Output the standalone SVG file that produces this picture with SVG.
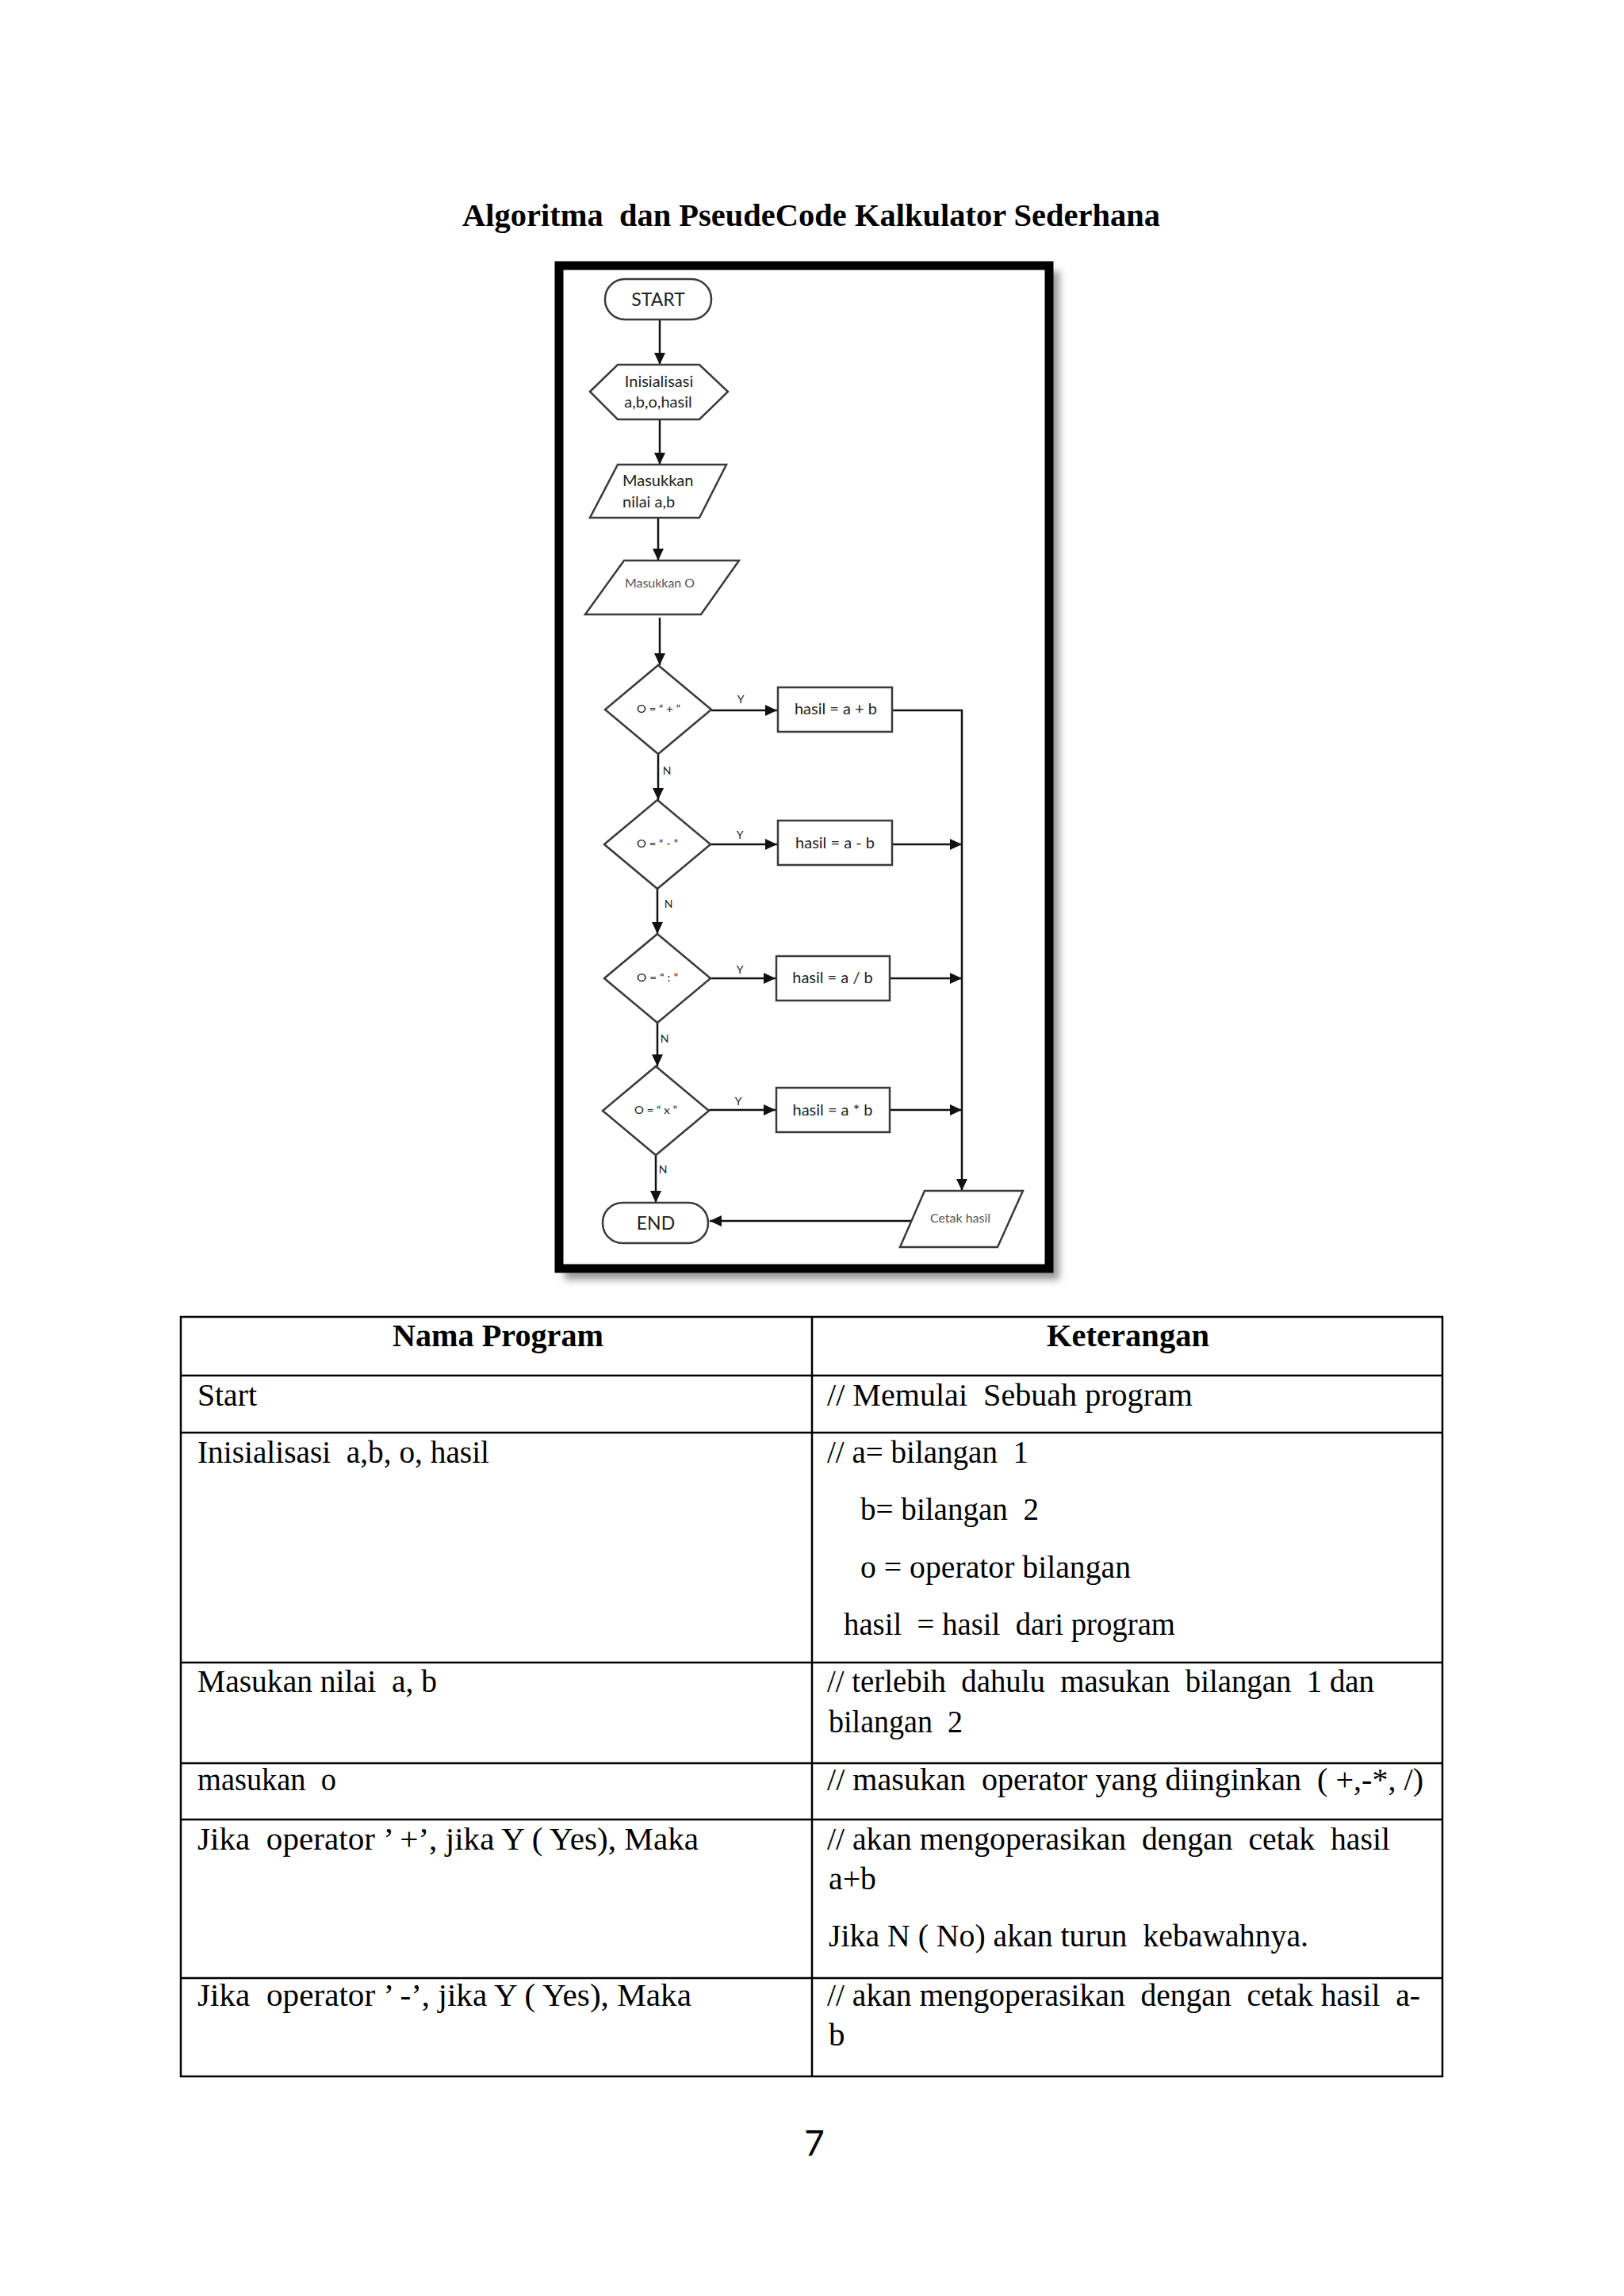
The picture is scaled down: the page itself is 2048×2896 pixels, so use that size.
<svg xmlns="http://www.w3.org/2000/svg" width="2048" height="2896" viewBox="0 0 2048 2896">
<style>
.fc{font-family:Lato,"Open Sans",sans-serif;fill:#222;}
.sh{fill:#fff;stroke:#3a3a3a;stroke-width:2.5;}
.cn{fill:none;stroke:#111;stroke-width:2.5;}
.lb{font-family:Lato,"Open Sans",sans-serif;font-size:14px;fill:#222;}
.tt{font-family:"Liberation Serif","Times New Roman",serif;font-size:41px;fill:#000;}
.tb{font-family:"Liberation Serif","Times New Roman",serif;font-size:41px;font-weight:bold;fill:#000;}
.gl{fill:none;stroke:#000;stroke-width:2.5;}
</style>
<defs>
<marker id="ah" markerUnits="userSpaceOnUse" markerWidth="16" markerHeight="14" refX="15" refY="7" orient="auto">
<path d="M0,0 L15,7 L0,14 Z" fill="#111"/>
</marker>
<filter id="blur" x="-5%" y="-5%" width="110%" height="110%"><feGaussianBlur stdDeviation="5"/></filter>
</defs>
<rect width="2048" height="2896" fill="#fff"/>

<text id="title" class="tb" x="583" y="285" textLength="880" lengthAdjust="spacingAndGlyphs" xml:space="preserve">Algoritma  dan PseudeCode Kalkulator Sederhana</text>

<g id="frame">
<rect x="712" y="342" width="624" height="1272" fill="#9a9a9a" filter="url(#blur)"/>
<rect x="705" y="335" width="618" height="1265" fill="#fff" stroke="#000" stroke-width="11"/>
</g>

<g id="connectors">
<line class="cn" x1="832" y1="403" x2="832" y2="460" marker-end="url(#ah)"/>
<line class="cn" x1="832" y1="529" x2="832" y2="586" marker-end="url(#ah)"/>
<line class="cn" x1="830" y1="653" x2="830" y2="707" marker-end="url(#ah)"/>
<line class="cn" x1="832" y1="779" x2="832" y2="839" marker-end="url(#ah)"/>
<line class="cn" x1="897" y1="896" x2="980" y2="896" marker-end="url(#ah)"/>
<line class="cn" x1="830" y1="951" x2="830" y2="1009" marker-end="url(#ah)"/>
<line class="cn" x1="896" y1="1065" x2="980" y2="1065" marker-end="url(#ah)"/>
<line class="cn" x1="829" y1="1121" x2="829" y2="1178" marker-end="url(#ah)"/>
<line class="cn" x1="896" y1="1234" x2="978" y2="1234" marker-end="url(#ah)"/>
<line class="cn" x1="829" y1="1290" x2="829" y2="1345" marker-end="url(#ah)"/>
<line class="cn" x1="894" y1="1400" x2="978" y2="1400" marker-end="url(#ah)"/>
<line class="cn" x1="827" y1="1457" x2="827" y2="1517" marker-end="url(#ah)"/>
<polyline class="cn" points="1125,896 1213,896 1213,1502" marker-end="url(#ah)"/>
<line class="cn" x1="1125" y1="1065" x2="1213" y2="1065" marker-end="url(#ah)"/>
<line class="cn" x1="1122" y1="1234" x2="1213" y2="1234" marker-end="url(#ah)"/>
<line class="cn" x1="1122" y1="1400" x2="1213" y2="1400" marker-end="url(#ah)"/>
<line class="cn" x1="1150" y1="1540" x2="895" y2="1540" marker-end="url(#ah)"/>
<text class="lb" x="934" y="887" text-anchor="middle">Y</text>
<text class="lb" x="933" y="1058" text-anchor="middle">Y</text>
<text class="lb" x="933" y="1228" text-anchor="middle">Y</text>
<text class="lb" x="931" y="1394" text-anchor="middle">Y</text>
<text class="lb" x="841" y="977" text-anchor="middle">N</text>
<text class="lb" x="843" y="1145" text-anchor="middle">N</text>
<text class="lb" x="838" y="1315" text-anchor="middle">N</text>
<text class="lb" x="836" y="1480" text-anchor="middle">N</text>
</g>

<g id="start">
<rect class="sh" x="763" y="352" width="134" height="51" rx="25"/>
<text class="fc" x="830" y="386" font-size="23" text-anchor="middle">START</text>
</g>
<g id="init">
<polygon class="sh" points="744,494 779,460 882,460 918,494 882,529 779,529"/>
<text class="fc" x="831" y="488" font-size="20" text-anchor="middle">Inisialisasi</text>
<text class="fc" x="830" y="514" font-size="20" text-anchor="middle">a,b,o,hasil</text>
</g>
<g id="input-ab">
<polygon class="sh" points="779,586 916,586 882,653 744,653"/>
<text class="fc" x="785" y="613" font-size="20">Masukkan</text>
<text class="fc" x="785" y="640" font-size="20">nilai a,b</text>
</g>
<g id="input-o">
<polygon class="sh" points="787,707 932,707 884,775 738,775"/>
<text class="fc" x="788" y="741" font-size="15" textLength="88" lengthAdjust="spacingAndGlyphs" style="fill:#555">Masukkan O</text>
</g>
<g id="d1">
<polygon class="sh" points="830,839 897,895 830,951 763,895"/>
<text class="fc" x="803" y="899" font-size="13" textLength="55" lengthAdjust="spacingAndGlyphs">O = “ + ”</text>
</g>
<g id="d2">
<polygon class="sh" points="829,1009 896,1065 829,1121 762,1065"/>
<text class="fc" x="803" y="1069" font-size="13" textLength="52" lengthAdjust="spacingAndGlyphs">O = “ - ”</text>
</g>
<g id="d3">
<polygon class="sh" points="829,1178 896,1234 829,1290 762,1234"/>
<text class="fc" x="803" y="1238" font-size="13" textLength="52" lengthAdjust="spacingAndGlyphs">O = “ : ”</text>
</g>
<g id="d4">
<polygon class="sh" points="827,1345 894,1401 827,1457 760,1401"/>
<text class="fc" x="800" y="1405" font-size="13" textLength="54" lengthAdjust="spacingAndGlyphs">O = “ x ”</text>
</g>
<g id="b1">
<rect class="sh" x="981" y="867" width="144" height="56"/>
<text class="fc" x="1054" y="901" font-size="20" text-anchor="middle">hasil = a + b</text>
</g>
<g id="b2">
<rect class="sh" x="981" y="1035" width="144" height="56"/>
<text class="fc" x="1053" y="1070" font-size="20" text-anchor="middle">hasil = a - b</text>
</g>
<g id="b3">
<rect class="sh" x="979" y="1206" width="143" height="56"/>
<text class="fc" x="1050" y="1240" font-size="20" text-anchor="middle">hasil = a / b</text>
</g>
<g id="b4">
<rect class="sh" x="979" y="1372" width="143" height="56"/>
<text class="fc" x="1050" y="1407" font-size="20" text-anchor="middle">hasil = a * b</text>
</g>
<g id="cetak">
<polygon class="sh" points="1166,1502 1290,1502 1258,1573 1135,1573"/>
<text class="fc" x="1173" y="1542" font-size="15" textLength="76" lengthAdjust="spacingAndGlyphs" style="fill:#555">Cetak hasil</text>
</g>
<g id="end">
<rect class="sh" x="760" y="1517" width="133" height="51" rx="25"/>
<text class="fc" x="827" y="1551" font-size="23" text-anchor="middle">END</text>
</g>

<g id="table">
<rect class="gl" x="228" y="1661" width="1591" height="958"/>
<line class="gl" x1="1024" y1="1661" x2="1024" y2="2619"/>
<line class="gl" x1="228" y1="1735" x2="1819" y2="1735"/>
<line class="gl" x1="228" y1="1807" x2="1819" y2="1807"/>
<line class="gl" x1="228" y1="2097" x2="1819" y2="2097"/>
<line class="gl" x1="228" y1="2224" x2="1819" y2="2224"/>
<line class="gl" x1="228" y1="2295" x2="1819" y2="2295"/>
<line class="gl" x1="228" y1="2495" x2="1819" y2="2495"/>
<text class="tb" x="495" y="1698" textLength="266" lengthAdjust="spacingAndGlyphs">Nama Program</text>
<text class="tb" x="1320" y="1698" textLength="205" lengthAdjust="spacingAndGlyphs">Keterangan</text>
<text class="tt" x="249" y="1773" textLength="75" lengthAdjust="spacingAndGlyphs">Start</text>
<text class="tt" x="1043" y="1773" textLength="461" lengthAdjust="spacingAndGlyphs" xml:space="preserve">// Memulai  Sebuah program</text>
<text class="tt" x="249" y="1845" textLength="368" lengthAdjust="spacingAndGlyphs" xml:space="preserve">Inisialisasi  a,b, o, hasil</text>
<text class="tt" x="1043" y="1845" textLength="254" lengthAdjust="spacingAndGlyphs" xml:space="preserve">// a= bilangan  1</text>
<text class="tt" x="1085" y="1917" textLength="225" lengthAdjust="spacingAndGlyphs" xml:space="preserve">b= bilangan  2</text>
<text class="tt" x="1085" y="1990" textLength="341" lengthAdjust="spacingAndGlyphs">o = operator bilangan</text>
<text class="tt" x="1064" y="2062" textLength="418" lengthAdjust="spacingAndGlyphs" xml:space="preserve">hasil  = hasil  dari program</text>
<text class="tt" x="249" y="2134" textLength="302" lengthAdjust="spacingAndGlyphs" xml:space="preserve">Masukan nilai  a, b</text>
<text class="tt" x="1043" y="2134" textLength="690" lengthAdjust="spacingAndGlyphs" xml:space="preserve">// terlebih  dahulu  masukan  bilangan  1 dan</text>
<text class="tt" x="1045" y="2185" textLength="169" lengthAdjust="spacingAndGlyphs" xml:space="preserve">bilangan  2</text>
<text class="tt" x="249" y="2258" textLength="175" lengthAdjust="spacingAndGlyphs" xml:space="preserve">masukan  o</text>
<text class="tt" x="1043" y="2258" textLength="752" lengthAdjust="spacingAndGlyphs" xml:space="preserve">// masukan  operator yang diinginkan  ( +,-*, /)</text>
<text class="tt" x="249" y="2333" textLength="632" lengthAdjust="spacingAndGlyphs" xml:space="preserve">Jika  operator ’ +’, jika Y ( Yes), Maka</text>
<text class="tt" x="1043" y="2333" textLength="710" lengthAdjust="spacingAndGlyphs" xml:space="preserve">// akan mengoperasikan  dengan  cetak  hasil</text>
<text class="tt" x="1045" y="2383" textLength="60" lengthAdjust="spacingAndGlyphs">a+b</text>
<text class="tt" x="1045" y="2455" textLength="605" lengthAdjust="spacingAndGlyphs" xml:space="preserve">Jika N ( No) akan turun  kebawahnya.</text>
<text class="tt" x="249" y="2530" textLength="623" lengthAdjust="spacingAndGlyphs" xml:space="preserve">Jika  operator ’ -’, jika Y ( Yes), Maka</text>
<text class="tt" x="1043" y="2530" textLength="748" lengthAdjust="spacingAndGlyphs" xml:space="preserve">// akan mengoperasikan  dengan  cetak hasil  a-</text>
<text class="tt" x="1045" y="2580">b</text>
</g>

<text id="page" x="1027" y="2719" font-family="Lato,'Open Sans',sans-serif" font-size="44" text-anchor="middle" fill="#000">7</text>
</svg>
